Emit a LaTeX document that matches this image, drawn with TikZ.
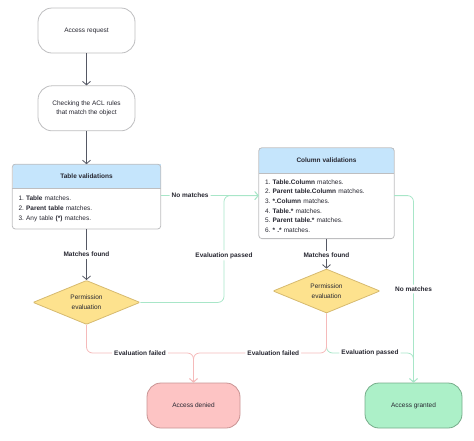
\documentclass[tikz,border=0pt]{standalone}
\usepackage{fontspec}
\setmainfont{Liberation Sans}
\usetikzlibrary{arrows.meta, positioning, shapes.geometric}

\definecolor{boxgray}{RGB}{190,190,192}
\definecolor{headblue}{RGB}{197,229,252}
\definecolor{diafill}{RGB}{253,226,142}
\definecolor{diabord}{RGB}{214,186,112}
\definecolor{denyfill}{RGB}{253,196,196}
\definecolor{denybord}{RGB}{200,148,148}
\definecolor{grantfill}{RGB}{172,240,200}
\definecolor{grantbord}{RGB}{118,172,138}
\definecolor{gline}{RGB}{168,230,200}
\definecolor{rline}{RGB}{245,186,186}
\definecolor{edgegray}{RGB}{85,88,100}
\definecolor{textdark}{RGB}{40,40,50}

\begin{document}
\begin{tikzpicture}[
    x=1pt, y=-1pt,
    font=\fontsize{6.5}{9.6}\selectfont,
    text=textdark,
    term/.style n args={2}{
        rectangle, rounded corners=14pt, draw=#1, fill=#2,
        minimum width=97pt, minimum height=45pt,
        line width=0.8pt, align=center
    },
    head/.style={
        rectangle, fill=headblue, font=\fontsize{6.5}{9.6}\selectfont\bfseries,
        minimum height=24pt, inner sep=0pt
    },
    body/.style={
        rectangle, fill=white, align=left, inner xsep=6pt, inner ysep=0pt
    },
    dia/.style={
        diamond, draw=diabord, fill=diafill, line width=0.8pt,
        minimum width=107pt, minimum height=44pt, inner sep=0pt,
        aspect=2.4, align=center, rounded corners=1pt
    },
    lbl/.style={
        fill=white, inner sep=2pt, font=\fontsize{6.5}{9.6}\selectfont\bfseries
    },
    darrow/.style={
        -{Straight Barb[length=3.5pt,width=8pt]}, draw=edgegray, line width=0.8pt
    },
    garrow/.style={
        -{Straight Barb[length=3.5pt,width=8pt]}, draw=gline, line width=0.8pt,
        rounded corners=6pt
    },
    rarrow/.style={
        -{Straight Barb[length=3.5pt,width=8pt]}, draw=rline, line width=0.8pt,
        rounded corners=6pt
    },
]

\useasboundingbox (0,0) rectangle (474,440);

% ============================================================
% Left column
% ============================================================

\node[term={boxgray}{white}] (req) at (86.5,30.5) {Access request};
\node[term={boxgray}{white}, below=32pt of req] (check)
    {Checking the ACL rules\\that match the object};

\node[head, minimum width=148pt, below=33pt of check] (tabhead) {Table validations};
\node[body, minimum width=148pt, minimum height=40pt, text width=136pt,
      below=0pt of tabhead] (tabbody)
    {1.\ \textbf{Table} matches.\\
     2.\ \textbf{Parent table} matches.\\
     3.\ Any table \textbf{(*)} matches.};
\draw[boxgray] (tabhead.south west) -- (tabhead.south east);
\draw[boxgray, line width=0.8pt, rounded corners=3pt]
    (tabhead.north west) rectangle (tabbody.south east);

\node[dia, below=51pt of tabbody] (ldia) {Permission\\evaluation};

% ============================================================
% Right column
% ============================================================

\node[head, minimum width=135pt, minimum height=25pt] (colhead) at (326.5,160.5)
    {Column validations};
\node[body, minimum width=135pt, minimum height=65pt, text width=123pt,
      below=0pt of colhead] (colbody)
    {1.\ \textbf{Table.Column} matches.\\
     2.\ \textbf{Parent table.Column} matches.\\
     3.\ \textbf{*.Column} matches.\\
     4.\ \textbf{Table.*} matches.\\
     5.\ \textbf{Parent table.*} matches.\\
     6.\ \textbf{* .*} matches.};
\draw[boxgray] (colhead.south west) -- (colhead.south east);
\draw[boxgray, line width=0.8pt, rounded corners=3pt]
    (colhead.north west) rectangle (colbody.south east);

\node[dia, below=30pt of colbody] (rdia) {Permission\\evaluation};

% Outcomes
\node[term={denybord}{denyfill}, minimum width=93pt] (denied) at (193.5,405.5) {Access denied};
\node[term={grantbord}{grantfill}] (grant) at (413.5,405.5) {Access granted};

% ============================================================
% Connectors
% ============================================================

\coordinate (nm) at ([yshift=-7pt]tabbody.north east);
\coordinate (jn) at (224,0);
\coordinate (fy) at (0,353);

\draw[darrow] (req) -- (check);
\draw[darrow] (check) -- (tabhead);
\draw[darrow] (tabbody) -- node[lbl] {Matches found} (ldia);
\draw[darrow] (colbody) -- node[lbl, pos=0.55] {Matches found} (rdia);

% green paths
\draw[garrow] (ldia.east) -| node[lbl, pos=0.72] {Evaluation passed} (jn |- nm)
    -- (colbody.west |- nm);
\draw[garrow] (nm) -- node[lbl, pos=0.3] {No matches} (colbody.west |- nm);
\draw[garrow] (colbody.east |- nm) -| node[lbl, pos=0.75] {No matches} (grant.north);
\draw[garrow] (rdia.south) |- node[lbl, pos=0.75] {Evaluation passed} (grant.north |- fy)
    -- (grant.north);

% red paths
\draw[rarrow] (ldia.south) |- node[lbl, pos=0.75] {Evaluation failed} (denied.north |- fy)
    -- (denied.north);
\draw[rarrow] (rdia.south) |- node[lbl, pos=0.7] {Evaluation failed} (denied.north |- fy)
    -- (denied.north);

\end{tikzpicture}
\end{document}
